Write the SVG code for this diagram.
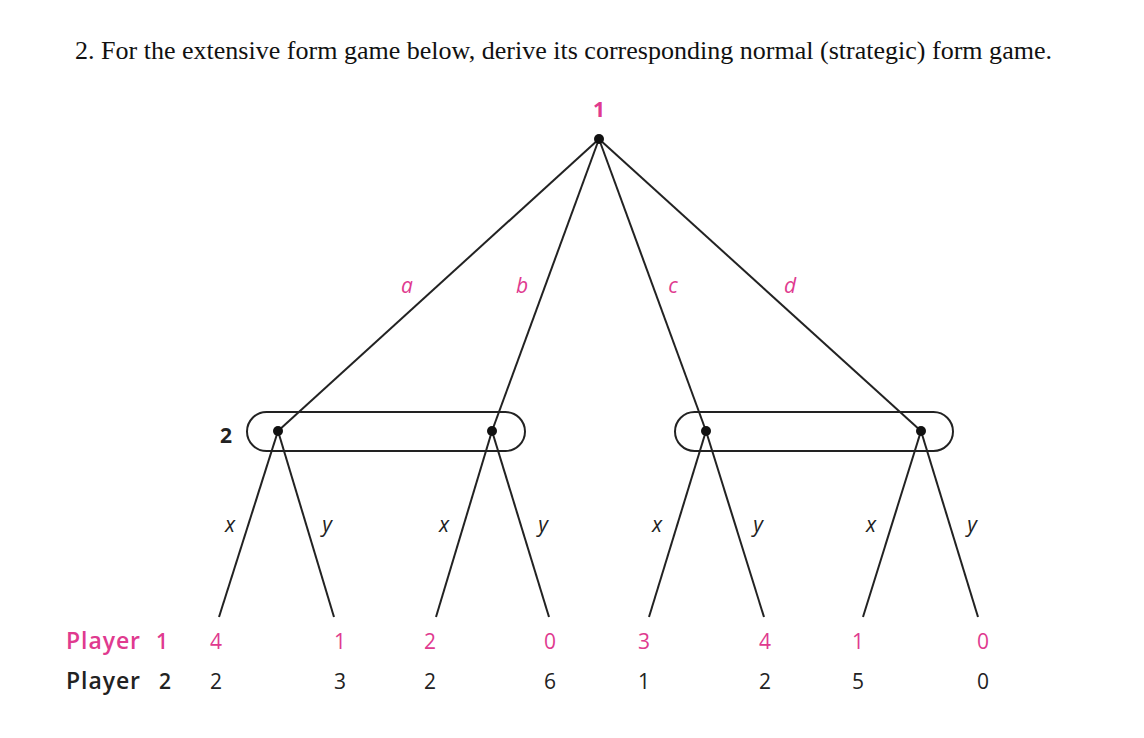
<svg xmlns="http://www.w3.org/2000/svg" width="1144" height="738" viewBox="0 0 1144 738">
<style>
.e{stroke:#222;stroke-width:2;fill:none}
.n{fill:#111}
.t{font-family:"Liberation Serif",serif;font-size:25px;fill:#111}
.s{font-family:"Open Sans","DejaVu Sans",sans-serif;font-size:21px}
.p{fill:#e03a8f}
.k{fill:#222}
.i{font-style:italic;font-size:21px}
.set{stroke:#222;stroke-width:2;fill:none}
</style>
<rect width="1144" height="738" fill="#fff"/>
<text class="t" x="75" y="59" textLength="977" lengthAdjust="spacingAndGlyphs">2. For the extensive form game below, derive its corresponding normal (strategic) form game.</text>
<g id="connectors">
<line class="e" x1="599" y1="139" x2="278" y2="431"/>
<line class="e" x1="599" y1="139" x2="492" y2="431"/>
<line class="e" x1="599" y1="139" x2="706" y2="431"/>
<line class="e" x1="599" y1="139" x2="921" y2="431"/>
<line class="e" x1="278" y1="431" x2="219" y2="617"/>
<line class="e" x1="278" y1="431" x2="334" y2="617"/>
<line class="e" x1="492" y1="431" x2="436" y2="617"/>
<line class="e" x1="492" y1="431" x2="549" y2="617"/>
<line class="e" x1="706" y1="431" x2="649" y2="617"/>
<line class="e" x1="706" y1="431" x2="764" y2="617"/>
<line class="e" x1="921" y1="431" x2="863" y2="617"/>
<line class="e" x1="921" y1="431" x2="978" y2="617"/>
</g>
<g class="s">
<text class="p i" x="407" y="293" text-anchor="middle">a</text>
<text class="p i" x="522" y="293" text-anchor="middle">b</text>
<text class="p i" x="673" y="293" text-anchor="middle">c</text>
<text class="p i" x="790" y="293" text-anchor="middle">d</text>
<text class="k i" x="230" y="532" text-anchor="middle">x</text>
<text class="k i" x="327" y="532" text-anchor="middle">y</text>
<text class="k i" x="444" y="532" text-anchor="middle">x</text>
<text class="k i" x="543" y="532" text-anchor="middle">y</text>
<text class="k i" x="657" y="532" text-anchor="middle">x</text>
<text class="k i" x="758" y="532" text-anchor="middle">y</text>
<text class="k i" x="871" y="532" text-anchor="middle">x</text>
<text class="k i" x="972" y="532" text-anchor="middle">y</text>
</g>
<g id="root"><circle class="n" cx="599" cy="139" r="5"/><text class="s p" x="599" y="117" text-anchor="middle" font-weight="bold" font-size="29">1</text></g>
<g id="set-left"><rect class="set" x="247" y="412" width="278" height="39" rx="19.5"/><text class="s k" x="226" y="443" text-anchor="middle" font-weight="bold" font-size="29">2</text></g>
<g id="set-right"><rect class="set" x="675" y="412" width="278" height="39" rx="19.5"/></g>
<g id="n-a"><circle class="n" cx="278" cy="431" r="5"/></g>
<g id="n-b"><circle class="n" cx="492" cy="431" r="5"/></g>
<g id="n-c"><circle class="n" cx="706" cy="431" r="5"/></g>
<g id="n-d"><circle class="n" cx="921" cy="431" r="5"/></g>
<g id="payoffs" class="s" text-anchor="middle">
<text class="p" x="66" y="649" text-anchor="start" font-weight="600" font-size="23" textLength="74">Player</text><text class="p" x="162" y="649" font-weight="600">1</text>
<text class="k" x="66" y="689" text-anchor="start" font-weight="600" font-size="23" textLength="74">Player</text><text class="k" x="165" y="689" font-weight="600">2</text>
<text class="p" x="216" y="649">4</text><text class="k" x="216" y="689">2</text>
<text class="p" x="340" y="649">1</text><text class="k" x="340" y="689">3</text>
<text class="p" x="430" y="649">2</text><text class="k" x="430" y="689">2</text>
<text class="p" x="550" y="649">0</text><text class="k" x="550" y="689">6</text>
<text class="p" x="644" y="649">3</text><text class="k" x="644" y="689">1</text>
<text class="p" x="765" y="649">4</text><text class="k" x="765" y="689">2</text>
<text class="p" x="858" y="649">1</text><text class="k" x="858" y="689">5</text>
<text class="p" x="983" y="649">0</text><text class="k" x="983" y="689">0</text>
</g>
</svg>
